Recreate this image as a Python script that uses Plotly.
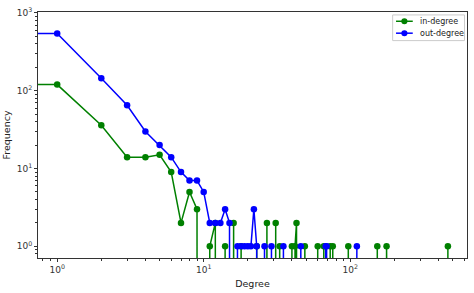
import plotly.graph_objects as go

# ---- data (degree -> number of nodes) ----
in_degree = [0, 1, 2, 3, 4, 5, 6, 7, 8, 9, 11, 12, 14, 16, 18, 23, 27, 31, 33,
             40, 42, 43, 49, 60, 66, 73, 76, 97, 153, 177, 464]
in_count = [120, 120, 36, 14, 14, 15, 9, 2, 5, 3, 1, 2, 1, 2, 1, 1, 2, 2, 1,
            1, 1, 2, 1, 1, 1, 1, 1, 1, 1, 1, 1]

out_degree = [0, 1, 2, 3, 4, 5, 6, 7, 8, 9, 10, 11, 12, 13, 14, 15, 17, 18, 19,
              20, 21, 22, 23, 26, 29, 35, 46, 68, 69, 111]
out_count = [545, 545, 145, 65, 30, 20, 14, 9, 7, 7, 5, 2, 2, 2, 3, 2, 1, 1, 1,
             1, 1, 3, 1, 1, 1, 1, 1, 1, 1, 1]

series_names = ["in-degree", "out-degree"]
series_colors = ["#008000", "#0000ff"]

x_tick_vals = [1, 10, 100]
x_tick_text = ["10<sup>0</sup>", "10<sup>1</sup>", "10<sup>2</sup>"]
y_tick_vals = [1, 10, 100, 1000]
y_tick_text = ["10<sup>0</sup>", "10<sup>1</sup>", "10<sup>2</sup>", "10<sup>3</sup>"]

TINY = 1e-100  # stand-in for non-positive values on log axes (like matplotlib's clipping)

W, H = 474, 293
ML, MR, MT, MB = 37, 6, 9, 32
PW, PH = W - ML - MR, H - MT - MB


def dense(degrees, counts):
    """Full histogram over 0..max degree, missing degrees are zero."""
    lookup = dict(zip(degrees, counts))
    ks = list(range(0, max(degrees) + 1))
    return ks, [lookup.get(k, 0) for k in ks]


def clip_pos(vals):
    return [v if v > 0 else TINY for v in vals]


def px(x):
    return (x - ML) / PW


def py(y):
    return 1 - (y - MT) / PH


fig = go.Figure()
for name, degs, cnts, color in zip(series_names, [in_degree, out_degree],
                                   [in_count, out_count], series_colors):
    ks, cs = dense(degs, cnts)
    fig.add_trace(go.Scatter(
        x=clip_pos(ks), y=clip_pos(cs), name=name, mode="lines+markers",
        line=dict(color=color, width=1.5),
        marker=dict(color=color, size=6.5),
        cliponaxis=True, showlegend=False,
    ))

minor_vals = [m * 10 ** e for e in range(-1, 3) for m in range(2, 10)]

axis_common = dict(
    showline=True, linecolor="#333", linewidth=1, mirror=True,
    showgrid=False, zeroline=False, ticks="outside", ticklen=3, tickwidth=1,
    tickcolor="#333", tickfont=dict(family="DejaVu Sans", size=9, color="#333"),
)

fig.update_xaxes(
    type="log", range=[-0.131, 2.797], tickmode="array",
    tickvals=x_tick_vals, ticktext=x_tick_text,
    minor=dict(ticks="outside", ticklen=1.7, tickcolor="#333", tickvals=minor_vals, showgrid=False),
    title=dict(text="Degree", font=dict(family="DejaVu Sans", size=9.5, color="#222"), standoff=6),
    **axis_common,
)
fig.update_yaxes(
    type="log", range=[-0.1506, 3.0125], tickmode="array",
    tickvals=y_tick_vals, ticktext=y_tick_text,
    minor=dict(ticks="outside", ticklen=1.7, tickcolor="#333", tickvals=minor_vals, showgrid=False),
    title=dict(text="Frequency", font=dict(family="DejaVu Sans", size=9.5, color="#222"), standoff=4),
    **axis_common,
)

# ---- compact matplotlib-style legend ----
shapes = [dict(type="rect", xref="paper", yref="paper",
               x0=px(393.3), x1=px(465.5), y0=py(38.3), y1=py(12),
               line=dict(color="#cccccc", width=1), fillcolor="rgba(255,255,255,0.8)", layer="above")]
annotations = []
for i, (name, color) in enumerate(zip(series_names, series_colors)):
    yc = 18.5 + i * 12.2
    shapes.append(dict(type="line", xref="paper", yref="paper",
                       x0=px(396.7), x1=px(413.5), y0=py(yc), y1=py(yc),
                       line=dict(color=color, width=1.5), layer="above"))
    shapes.append(dict(type="circle", xref="paper", yref="paper",
                       x0=px(405.1 - 3.1), x1=px(405.1 + 3.1), y0=py(yc + 3.1), y1=py(yc - 3.1),
                       line=dict(color=color, width=0), fillcolor=color, layer="above"))
    annotations.append(dict(xref="paper", yref="paper", x=px(418.5), y=py(yc),
                            xanchor="left", yanchor="middle", text=name, showarrow=False,
                            font=dict(family="DejaVu Sans", size=8, color="#222")))

fig.update_layout(
    width=W, height=H,
    margin=dict(l=ML, r=MR, t=MT, b=MB),
    paper_bgcolor="white", plot_bgcolor="white",
    font=dict(family="DejaVu Sans", size=9, color="#222"),
    shapes=shapes, annotations=annotations,
    showlegend=False,
)

fig.write_html("out.html")
